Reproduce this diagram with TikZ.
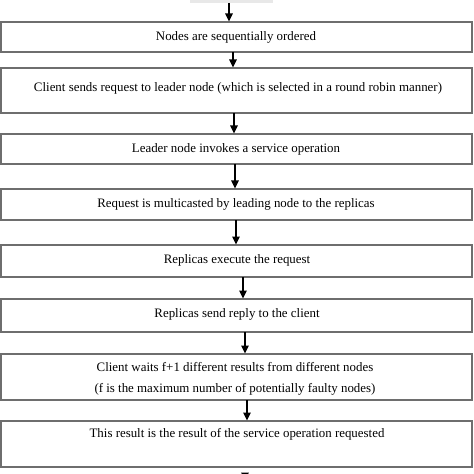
\documentclass[tikz,border=0pt]{standalone}
\usepackage{fontspec}
\setmainfont{Liberation Serif}
\usetikzlibrary{arrows.meta}
\definecolor{boxline}{HTML}{6E6E6E}
\tikzset{
  box/.style={draw=boxline, line width=1.3bp, rectangle, minimum width=471bp, inner sep=0pt, outer sep=0pt},
  txt/.style={font=\fontsize{12.9bp}{21bp}\selectfont, align=center, inner sep=0pt},
  arr/.style={draw=black, line width=1.2bp, -{Triangle[width=7.5bp,length=8bp]}, shorten >=0.5bp}
}
\begin{document}
\begin{tikzpicture}[x=1bp,y=-1bp]
\useasboundingbox (0,0) rectangle (474,474);
\fill[white] (0,0) rectangle (474,474);
% partial box at top
\node[fill=black!9, draw=none, minimum width=83bp, minimum height=6bp, inner sep=0pt, outer sep=0pt] (b0) at (231.5,0) {};
% boxes
\node[box, minimum height=30bp] (b1) at (236.5,37) {};
\node[box, minimum height=45bp] (b2) at (236.5,90.5) {};
\node[box, minimum height=30bp] (b3) at (236.5,149) {};
\node[box, minimum height=31bp] (b4) at (236.5,204.5) {};
\node[box, minimum height=32bp] (b5) at (236.5,261) {};
\node[box, minimum height=33bp] (b6) at (236.5,315.5) {};
\node[box, minimum height=46bp] (b7) at (236.5,377) {};
\node[box, minimum height=46bp] (b8) at (236.5,444) {};
% texts
\node[txt] (t1) at (236,37) {Nodes are sequentially ordered};
\node[txt] (t2) at (238,88) {Client sends request to leader node (which is selected in a round robin manner)};
\node[txt] (t3) at (236,149) {Leader node invokes a service operation};
\node[txt] (t4) at (236,204) {Request is multicasted by leading node to the replicas};
\node[txt] (t5) at (237,260) {Replicas execute the request};
\node[txt] (t6) at (237,314) {Replicas send reply to the client};
\node[txt] (t7) at (235,378.5) {Client waits f+1 different results from different nodes\\(f is the maximum number of potentially faulty nodes)};
\node[txt] (t8) at (237,434) {This result is the result of the service operation requested};
% arrows
\coordinate (xa0) at (229,0);
\coordinate (xa1) at (233,0);
\coordinate (xa2) at (234,0);
\coordinate (xa3) at (235,0);
\coordinate (xa4) at (236,0);
\coordinate (xa5) at (243,0);
\coordinate (xa6) at (245,0);
\coordinate (xa7) at (247,0);
\coordinate (endpt) at (245,481);
\draw[arr] (b0.south -| xa0) -- (b1.north -| xa0);
\draw[arr] (b1.south -| xa1) -- (b2.north -| xa1);
\draw[arr] (b2.south -| xa2) -- (b3.north -| xa2);
\draw[arr] (b3.south -| xa3) -- (b4.north -| xa3);
\draw[arr] (b4.south -| xa4) -- (b5.north -| xa4);
\draw[arr] (b5.south -| xa5) -- (b6.north -| xa5);
\draw[arr] (b6.south -| xa6) -- (b7.north -| xa6);
\draw[arr] (b7.south -| xa7) -- (b8.north -| xa7);
\draw[arr] ([yshift=-9bp]b8.south -| endpt) -- (endpt);
\end{tikzpicture}
\end{document}
